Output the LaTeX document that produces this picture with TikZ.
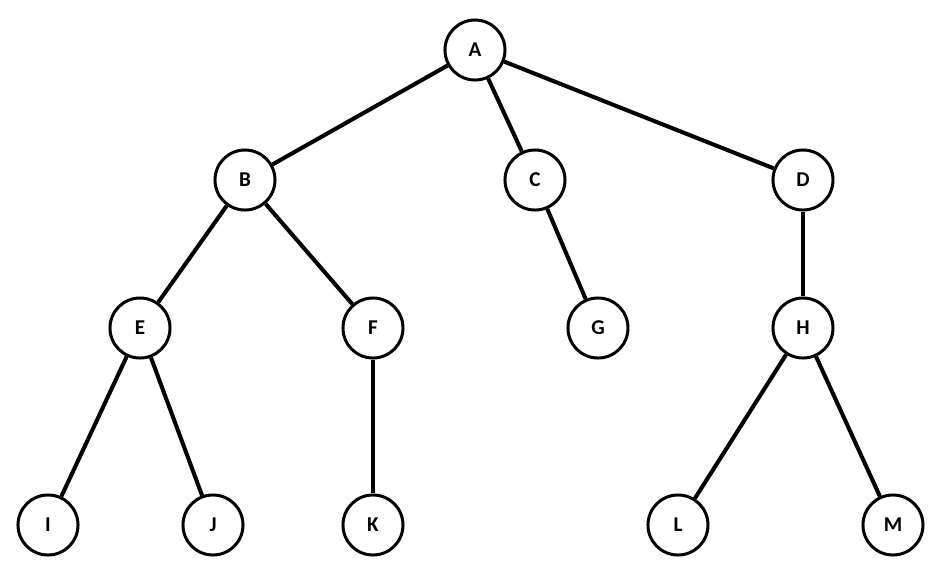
\documentclass[tikz,border=0pt]{standalone}
\usepackage{fontspec}
\setmainfont{Carlito}
\begin{document}
\begin{tikzpicture}[x=0.01cm,y=-0.01cm,
  nd/.style={circle,draw,line width=0.85pt,minimum size=0.6cm,inner sep=0pt,font=\fontsize{6pt}{7pt}\selectfont\bfseries,fill=white},
  ed/.style={line width=1.15pt}]
\useasboundingbox (0,0) rectangle (947,575);
\node[nd] (A) at (475,50) {A};
\node[nd] (B) at (245,180) {B};
\node[nd] (C) at (535,180) {C};
\node[nd] (D) at (803,180) {D};
\node[nd] (E) at (140,328) {E};
\node[nd] (F) at (373,328) {F};
\node[nd] (G) at (598,328) {G};
\node[nd] (H) at (803,328) {H};
\node[nd] (I) at (48,525) {I};
\node[nd] (J) at (213,525) {J};
\node[nd] (K) at (373,525) {K};
\node[nd] (L) at (678,525) {L};
\node[nd] (M) at (893,525) {M};
\foreach \a/\b in {A/B,A/C,A/D,B/E,B/F,C/G,D/H,E/I,E/J,F/K,H/L,H/M}
  \draw[ed] (\a) -- (\b);
\end{tikzpicture}
\end{document}
